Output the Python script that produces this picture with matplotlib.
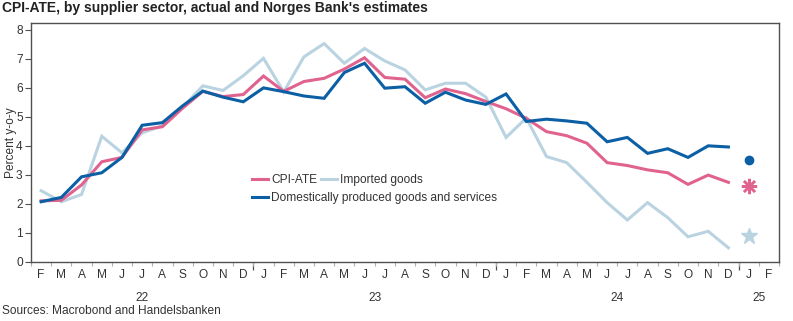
import matplotlib
matplotlib.use("Agg")
import matplotlib.pyplot as plt
from matplotlib.lines import Line2D

plt.rcParams["font.family"] = ["Liberation Sans", "DejaVu Sans"]

# Monthly year-on-year inflation, Feb 2022 - Dec 2024
months = ["F", "M", "A", "M", "J", "J", "A", "S", "O", "N", "D",
          "J", "F", "M", "A", "M", "J", "J", "A", "S", "O", "N", "D",
          "J", "F", "M", "A", "M", "J", "J", "A", "S", "O", "N", "D",
          "J", "F"]
years = ["22", "23", "24", "25"]

cpi_ate = [2.1, 2.12, 2.65, 3.45, 3.6, 4.55, 4.66, 5.3, 5.88, 5.7, 5.77,
           6.41, 5.88, 6.22, 6.33, 6.65, 7.04, 6.36, 6.3, 5.66, 5.96, 5.8, 5.53,
           5.28, 4.95, 4.49, 4.35, 4.09, 3.42, 3.32, 3.17, 3.07, 2.67, 2.99, 2.74]
imported = [2.45, 2.07, 2.32, 4.33, 3.76, 4.45, 4.69, 5.33, 6.07, 5.91, 6.42,
            7.02, 5.86, 7.07, 7.53, 6.85, 7.36, 6.93, 6.62, 5.93, 6.16, 6.16, 5.68,
            4.29, 4.96, 3.63, 3.42, 2.74, 2.04, 1.44, 2.04, 1.52, 0.86, 1.05, 0.48]
domestic = [2.07, 2.22, 2.93, 3.07, 3.6, 4.71, 4.8, 5.38, 5.89, 5.68, 5.52,
            6.0, 5.87, 5.72, 5.64, 6.53, 6.85, 5.99, 6.04, 5.47, 5.85, 5.58, 5.43,
            5.79, 4.84, 4.92, 4.86, 4.78, 4.14, 4.29, 3.74, 3.9, 3.6, 4.0, 3.96]

# Norges Bank's estimates for January 2025
est_cpi_ate = 2.6
est_imported = 0.9
est_domestic = 3.5

c_cpi = "#e0638f"
c_imp = "#bad3e1"
c_dom = "#0b5fa5"
frame = "#505050"
txt = "#333333"
fs = 8.6

fig = plt.figure(figsize=(7.93, 3.21), dpi=100)
ax = fig.add_axes([0.0391, 0.1847, 0.9432, 0.7446])

n = len(cpi_ate)
x = list(range(n))
lw = 2.2
ax.plot(x, imported, color=c_imp, lw=lw, solid_joinstyle="miter", zorder=2)
ax.plot(x, cpi_ate, color=c_cpi, lw=lw, solid_joinstyle="miter", zorder=3)
ax.plot(x, domestic, color=c_dom, lw=lw, solid_joinstyle="miter", zorder=4)

xe = n  # January 2025
ax.plot([xe], [est_domestic], marker="o", ms=6, color=c_dom, ls="none")
ax.plot([xe], [est_cpi_ate], marker=(8, 2, 0), ms=11, mew=1.8, color=c_cpi, ls="none")
ax.plot([xe], [est_imported], marker="*", ms=12, color=c_imp, ls="none")

ax.set_xlim(-0.5, len(months) - 0.5)
ax.set_ylim(0, 8.25)

# y axis
ax.set_yticks(range(0, 9))
ax.tick_params(axis="y", direction="out", length=4, width=0.8, color=frame,
               labelsize=fs, labelcolor=txt, pad=2)
ax.set_ylabel("Percent y-o-y", fontsize=fs, color=txt, va="center")
ax.yaxis.set_label_coords(-0.027, 0.5)

# x axis: month letters centred, short ticks at month boundaries
ax.set_xticks(range(len(months)))
ax.set_xticklabels(months)
ax.tick_params(axis="x", which="major", length=0, labelsize=fs, labelcolor=txt, pad=5)
year_bounds = [i - 0.5 for i, m in enumerate(months) if m == "J" and months[i - 1] == "D"]
ax.set_xticks([i - 0.5 for i in range(len(months) + 1)], minor=True)
ax.tick_params(axis="x", which="minor", direction="out", length=3, width=0.8, color="#b0b0b0")

# year boundaries and year labels
sec = ax.secondary_xaxis("bottom")
sec.set_xticks(year_bounds)
sec.set_xticklabels([])
sec.tick_params(length=6, width=0.9, color=frame)
sec.spines["bottom"].set_visible(False)

edges = [-0.5] + year_bounds + [len(months) - 0.5]
centres = [(edges[k] + edges[k + 1]) / 2 for k in range(len(years))]
sec2 = ax.secondary_xaxis("bottom")
sec2.set_xticks(centres)
sec2.set_xticklabels(years)
sec2.tick_params(length=0, labelsize=fs, labelcolor=txt, pad=22)
sec2.spines["bottom"].set_visible(False)

for s in ax.spines.values():
    s.set_color(frame)
    s.set_linewidth(1.0)

# legend
h_cpi = Line2D([], [], color=c_cpi, lw=lw)
h_imp = Line2D([], [], color=c_imp, lw=lw)
h_dom = Line2D([], [], color=c_dom, lw=lw)
leg_kw = dict(frameon=False, fontsize=fs, handlelength=1.3, handletextpad=0.25,
              borderpad=0, borderaxespad=0, labelcolor=txt, loc="center left")
leg1 = ax.legend([h_cpi, h_imp], ["CPI-ATE", "Imported goods"], ncol=2,
                 columnspacing=0.35, bbox_to_anchor=(0.296, 0.342), **leg_kw)
ax.add_artist(leg1)
ax.legend([h_dom], ["Domestically produced goods and services"],
          bbox_to_anchor=(0.296, 0.267), **leg_kw)

fig.text(0.003, 0.975, "CPI-ATE, by supplier sector, actual and Norges Bank's estimates",
         fontsize=10, fontweight="bold", color="#222222", ha="left", va="center")
fig.text(0.003, 0.031, "Sources: Macrobond and Handelsbanken",
         fontsize=fs, color=txt, ha="left", va="center")

fig.savefig("out.png", dpi=100)
